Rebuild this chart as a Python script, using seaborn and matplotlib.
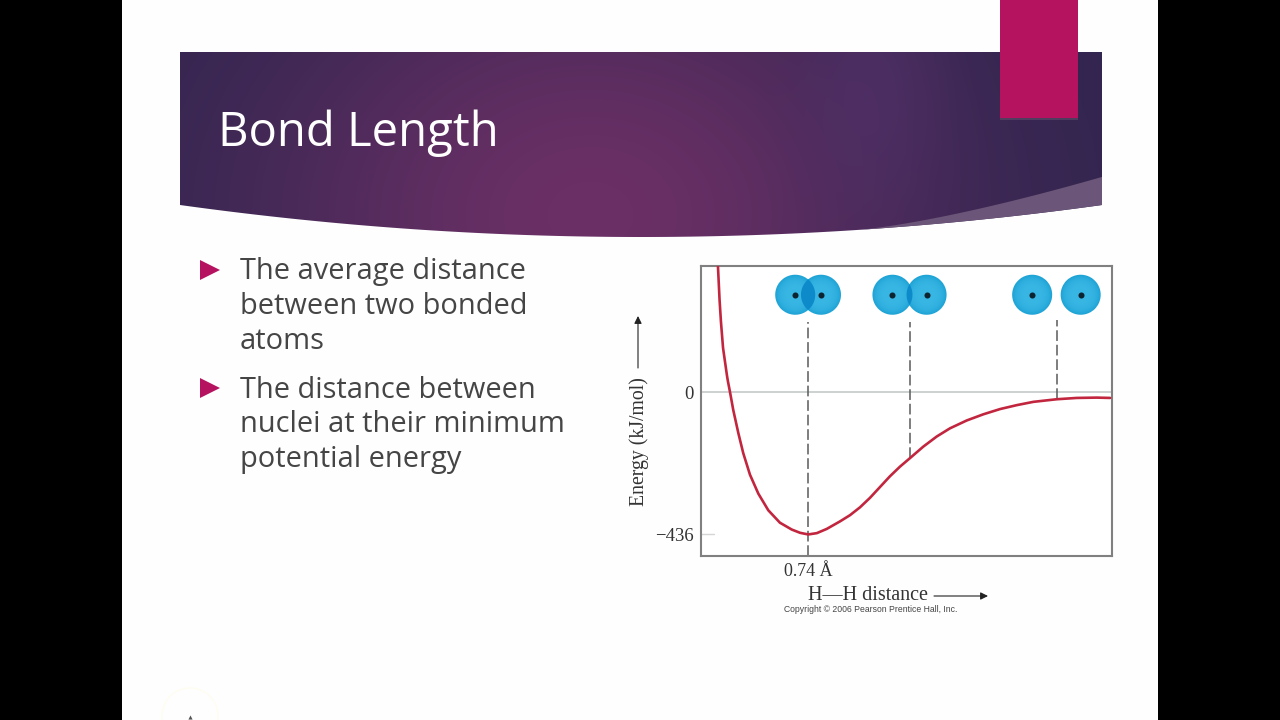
import numpy as np
import matplotlib
matplotlib.use('Agg')
import matplotlib.pyplot as plt
from matplotlib.patches import Polygon, Rectangle, Circle
import seaborn as sns

# Energy curve
distance = [0.352, 0.359, 0.365, 0.374, 0.391, 0.395, 0.404, 0.418, 0.440, 0.461, 0.490,
            0.526, 0.569, 0.619, 0.670, 0.706, 0.741, 0.778, 0.821, 0.878, 0.921,
            0.964, 1.007, 1.050, 1.093, 1.137, 1.180, 1.237, 1.295, 1.352, 1.424,
            1.496, 1.568, 1.640, 1.711, 1.812, 1.898, 1.984, 2.042]
energy = [386, 282, 215, 135, 50, 33, 0, -55, -126, -187, -253,
          -311, -362, -400, -421, -431, -436, -432, -419, -396, -377,
          -353, -324, -291, -258, -228, -202, -167, -136, -111, -87,
          -68, -52, -40, -30, -22, -18, -17, -18]

# Dashed guides: x position, top and bottom energy
guide_x = [0.74, 1.178, 1.812]
guide_top = [215, 215, 220]
guide_bottom = [-502, -202, -22]

# Hydrogen atoms along the top of the plot
atom_x = [0.685, 0.796, 1.104, 1.251, 1.706, 1.915]
atom_y = 298

y_ticks = [0, -436]
y_labels = ['0', '\u2212436']

title = 'Bond Length'
bullet_1 = ['The average distance', 'between two bonded', 'atoms']
bullet_2 = ['The distance between', 'nuclei at their minimum', 'potential energy']

sns.set_theme(style='white')
plt.rcParams['font.family'] = ['Open Sans', 'DejaVu Sans']

fig = plt.figure(figsize=(12.8, 7.2), dpi=100, facecolor='black')

# Background axes in pixel coordinates for the slide itself
bg = fig.add_axes([0, 0, 1, 1], zorder=0)
bg.set_xlim(0, 1280)
bg.set_ylim(720, 0)
bg.axis('off')
bg.add_patch(Rectangle((0, 0), 1280, 720, color='black', lw=0))
bg.add_patch(Rectangle((122, 0), 1036, 720, color='#fefefe', lw=0))

# Banner with a radial gradient, clipped to the curved shape
xs = np.arange(180, 1103)
yy, xx = np.mgrid[52:238, 180:1103]
glow = np.exp(-(((xx - 590) / 330.0) ** 2 + ((yy - 215) / 260.0) ** 2))
glow2 = np.exp(-(((xx - 870) / 70.0) ** 2 + ((yy - 90) / 120.0) ** 2))
dark = np.array([0x2f, 0x25, 0x4e])
mid = np.array([0x6b, 0x30, 0x66])
blue = np.array([0x50, 0x30, 0x68])
img = dark + glow[..., None] * (mid - dark)
img = img + (glow2 * 0.7)[..., None] * (blue - img)
im = bg.imshow(img / 255.0, extent=(180, 1103, 238, 52), aspect='auto', zorder=1)
lower = 237 - 32 * ((xs - 641) / 461.0) ** 2
banner = Polygon(list(zip(xs, lower)) + [(1102, 52), (180, 52)], closed=True,
                 transform=bg.transData, facecolor='none', edgecolor='none')
bg.add_patch(banner)
im.set_clip_path(banner)
bg.set_xlim(0, 1280)
bg.set_ylim(720, 0)

# Lighter swoosh at the right end of the banner
sx = np.arange(850, 1103)
swoosh_low = 237 - 32 * ((sx - 641) / 461.0) ** 2
swoosh_top = swoosh_low[0] - 53.5 * ((sx - 850) / 252.0) ** 1.35
swoosh_top = np.minimum(swoosh_top, swoosh_low)
bg.add_patch(Polygon(list(zip(sx, swoosh_top)) + list(zip(sx[::-1], swoosh_low[::-1])),
                     closed=True, facecolor='#6b5578', edgecolor='none', zorder=2))

# Pink tab
bg.add_patch(Rectangle((1000, 116), 78, 4, color='#8a7080', alpha=0.3, lw=0, zorder=2))
bg.add_patch(Rectangle((1000, 0), 78, 118, color='#b5135f', lw=0, zorder=3))

bg.text(218, 133, title, color='white', fontsize=34, va='center', ha='left', zorder=4)

for lines, top, tri_y in [(bullet_1, 272, 270), (bullet_2, 390, 388)]:
    bg.plot([210], [tri_y], marker='>', ms=14, color='#b5135f', ls='none', mew=0, zorder=4)
    for i, line in enumerate(lines):
        bg.text(240, top + i * 34.7, line, color='#454545', fontsize=20.9,
                va='center', ha='left', zorder=4)

# Faint pointer ring at the bottom of the slide
bg.add_patch(Circle((190, 716), 28, facecolor='none', edgecolor='#fffdf0', lw=1, zorder=1))
bg.plot([190], [717], marker='^', ms=3, color='#555555', ls='none', mew=0, zorder=2)

# Chart axes placed over the slide
left, right, top_px, bottom_px = 701, 1112, 266, 556
ax = fig.add_axes([left / 1280, 1 - bottom_px / 720, (right - left) / 1280,
                   (bottom_px - top_px) / 720], zorder=1)
ax.set_facecolor('white')
ax.axhline(0, color='#c6caca', lw=1.2, zorder=1)
ax.plot([0.279, 0.335], [-436, -436], color='#d4d6d6', lw=1, zorder=1)
ax.vlines(guide_x, guide_bottom, guide_top, color='#5a5a5a', lw=1.1,
          linestyles=(0, (7, 2.5)), zorder=2)
sns.lineplot(x=distance, y=energy, ax=ax, color='#c2263f', lw=1.9, sort=False,
             estimator=None, zorder=3)
ax.set_xlim(0.279, 2.050)
ax.set_ylim(-502, 386)
ax.set_xticks([])
ax.set_yticks(y_ticks)
ax.set_yticklabels(y_labels, family='Liberation Serif', fontsize=13.5, color='#333333')
ax.tick_params(axis='y', length=0, pad=5)
for s in ax.spines.values():
    s.set_color('#808080')
    s.set_linewidth(1.5)

# Atoms drawn pixel by pixel so the overlaps come out darker
pts = ax.transData.transform([(a, atom_y) for a in atom_x])
centers = [(p[0], 720 - p[1]) for p in pts]
radius = 20.0
ay, ax_px = np.mgrid[270:320, 770:1110] + 0.5
coverage = np.zeros(ax_px.shape + (len(centers),))
shade = np.zeros(ax_px.shape)
for k, (cx, cy) in enumerate(centers):
    d = np.hypot(ax_px - cx, ay - cy)
    coverage[..., k] = np.clip(radius - d + 0.5, 0, 1)
    shade = np.maximum(shade, coverage[..., k] * (1 - (d / radius) ** 4))
count = coverage.sum(axis=2)
alpha = np.clip(count, 0, 1)
edge_col = np.array([0x1c, 0xa2, 0xd4])
core_col = np.array([0x38, 0xb6, 0xe4])
rgb = edge_col + shade[..., None] * (core_col - edge_col)
overlap = np.clip(count - 1, 0, 1)[..., None]
rgb = rgb + overlap * (np.array([0x0d, 0x8a, 0xca]) - rgb)
atoms = np.dstack([rgb / 255.0, alpha])
over = fig.add_axes([0, 0, 1, 1], zorder=2)
over.patch.set_alpha(0)
over.axis('off')
over.imshow(atoms, extent=(770, 1110, 320, 270), aspect='auto', zorder=1)
over.scatter([c[0] for c in centers], [c[1] for c in centers], s=19, color='#0c2430',
             linewidths=0, zorder=2)
over.set_xlim(0, 1280)
over.set_ylim(720, 0)

# Labels around the chart
serif = 'Liberation Serif'
over.text(808, 571, '0.74 \u00c5', family=serif, fontsize=13, color='#333333', ha='center', va='center')
over.text(639, 442, 'Energy (kJ/mol)', family=serif, fontsize=14.2, color='#333333',
          rotation=90, ha='center', va='center')
over.text(868.5, 596, 'H\u2014H distance', family=serif, fontsize=14.5, color='#333333', ha='center', va='center')
over.text(871, 610, 'Copyright \u00a9 2006 Pearson Prentice Hall, Inc.', family='Liberation Sans',
          fontsize=6.2, color='#444444', ha='center', va='center')
arrow = dict(arrowstyle='-|>', color='#222222', lw=0.8, mutation_scale=11, shrinkA=0, shrinkB=0)
over.annotate('', xy=(638, 316), xytext=(638, 368), arrowprops=arrow)
over.annotate('', xy=(988, 596), xytext=(934, 596), arrowprops=arrow)

fig.savefig('out.png', dpi=100, facecolor='black')
